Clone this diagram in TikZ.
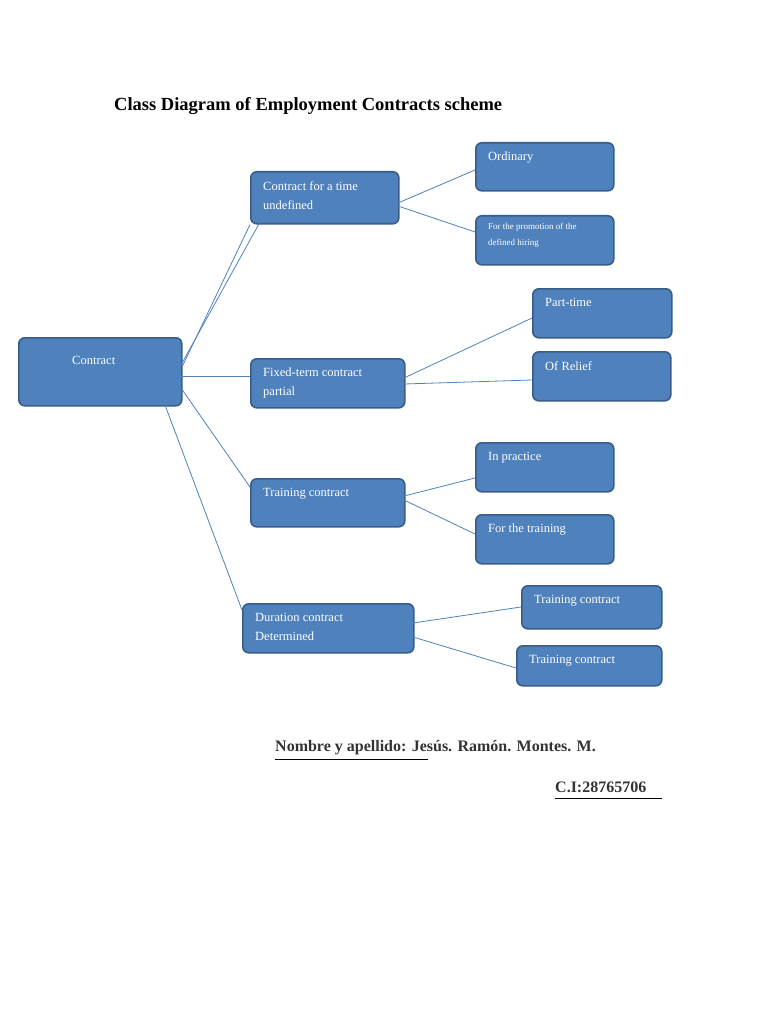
\documentclass[tikz,border=0pt]{standalone}
\usepackage{fontspec}
\setmainfont{Liberation Serif}
\begin{document}
\begin{tikzpicture}[x=1pt,y=-1pt,
  box/.style={draw=bbord,fill=bfill,rounded corners=6pt,line width=1.6pt,anchor=north west,inner sep=0pt},
  txt/.style={anchor=north west,text=white,font=\fontsize{12.5}{19}\selectfont,align=left,inner sep=0pt},
  ln/.style={draw=bfill,line width=0.8pt}]
\definecolor{bfill}{HTML}{4F81BD}
\definecolor{bbord}{HTML}{385D8A}
\useasboundingbox (0,0) rectangle (768,1024);
\newcommand\bx[6]{\node[box,minimum width=#4-#2,minimum height=#5-#3] (#1) at (#2,#3) {};
  \node[txt] (#1t) at (#2+13,#3+10) {#6};}
\bx{c}{18}{337}{181}{405}{}
\node[txt] (ct) at (72,356) {Contract};
\bx{a}{250}{171}{398}{223}{Contract for a time\\undefined}
\bx{a1}{475}{142}{613}{190}{Ordinary}
\bx{a2}{475}{215}{613}{264}{}
\node[txt,font=\fontsize{9}{16}\selectfont] (a2t) at (488,223) {For the promotion of the\\defined hiring};
\bx{b}{250}{358}{404}{407}{Fixed-term contract\\partial}
\bx{b1}{532}{288}{671}{337}{Part-time}
\bx{b2}{532}{351}{670}{400}{Of Relief}
\bx{d}{250}{478}{404}{526}{Training contract}
\bx{d1}{475}{442}{613}{491}{In practice}
\bx{d2}{475}{514}{613}{563}{For the training}
\bx{e}{242}{603}{413}{652}{Duration contract\\Determined}
\bx{e1}{521}{585}{661}{628}{Training contract}
\bx{e2}{516}{645}{661}{685}{Training contract}
\draw[ln] (c.east) ++(0,-6) -- (a.south west) ++(10,0);
\draw[ln] (181,365) -- (260,222);
\draw[ln] (181,376) -- (250,376);
\draw[ln] (181,388) -- (250,487);
\draw[ln] (165,405) -- (242,610);
\draw[ln] (398,203) -- (475,170);
\draw[ln] (398,206) -- (475,232);
\draw[ln] (404,378) -- (532,318);
\draw[ln] (404,384) -- (532,380);
\draw[ln] (404,496) -- (475,478);
\draw[ln] (404,500) -- (475,534);
\draw[ln] (413,623) -- (521,607);
\draw[ln] (413,637) -- (516,668);
\node[anchor=west,font=\bfseries\fontsize{18.5}{20}\selectfont,inner sep=0pt] (title) at (114,106) {Class Diagram of Employment Contracts scheme};
\node[anchor=west,font=\bfseries\fontsize{16}{18}\selectfont,inner sep=0pt,text=black!80] (name) at (275,748) {Nombre y apellido: Jesús. Ramón. Montes. M.};
\draw[line width=1pt] (275,759) -- (428,759);
\node[anchor=west,font=\bfseries\fontsize{16}{18}\selectfont,inner sep=0pt,text=black!80] (ci) at (555,787) {C.I:28765706};
\draw[line width=1pt] (555,798) -- (662,798);
\end{tikzpicture}
\end{document}
